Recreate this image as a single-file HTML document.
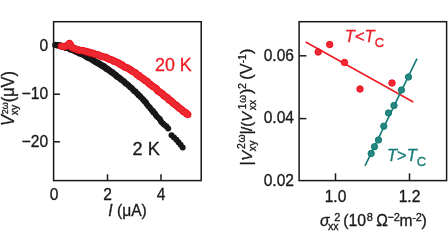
<!DOCTYPE html>
<html><head><meta charset="utf-8"><title>figure</title>
<style>html,body{margin:0;padding:0;background:#fff;overflow:hidden}svg{display:block}</style></head>
<body>
<svg width="448" height="252" viewBox="0 0 448 252">
<rect width="448" height="252" fill="#fff"/>
<g fill="none" stroke="#1a1718" stroke-width="1.5">
<rect x="53.6" y="21.7" width="147.6" height="158.9"/>
<path d="M53.6 45.5h6.3"/>
<path d="M53.6 94.2h6.3"/>
<path d="M53.6 141.8h6.3"/>
<path d="M107.5 180.6v-6.3"/>
<path d="M161 180.6v-6.3"/>
</g>
<g fill="none" stroke="#1a1718" stroke-width="1.5">
<rect x="299.1" y="21.7" width="147.5" height="158.9"/>
<path d="M299.1 55.8h7.3"/>
<path d="M299.1 118.6h7.3"/>
<path d="M335.5 180.6v-7.3"/>
<path d="M409.5 180.6v-7.3"/>
</g>
<g fill="#1a1718"><circle cx="55.4" cy="44.9" r="3.20"/><circle cx="57.1" cy="45.2" r="3.20"/><circle cx="59.0" cy="45.4" r="3.20"/><circle cx="60.1" cy="45.4" r="3.20"/><circle cx="61.4" cy="46.1" r="3.20"/><circle cx="63.1" cy="46.8" r="3.20"/><circle cx="64.4" cy="46.7" r="3.20"/><circle cx="65.8" cy="47.7" r="3.20"/><circle cx="67.1" cy="47.9" r="3.20"/><circle cx="69.0" cy="48.1" r="3.20"/><circle cx="70.2" cy="49.3" r="3.20"/><circle cx="71.4" cy="49.6" r="3.20"/><circle cx="73.2" cy="49.8" r="3.20"/><circle cx="74.4" cy="50.8" r="3.20"/><circle cx="75.9" cy="51.2" r="3.20"/><circle cx="76.9" cy="51.9" r="3.20"/><circle cx="78.4" cy="52.5" r="3.20"/><circle cx="79.8" cy="53.4" r="3.20"/><circle cx="81.4" cy="53.7" r="3.20"/><circle cx="82.7" cy="54.3" r="3.20"/><circle cx="83.9" cy="55.0" r="3.20"/><circle cx="85.4" cy="55.7" r="3.20"/><circle cx="86.6" cy="56.7" r="3.20"/><circle cx="87.9" cy="57.5" r="3.20"/><circle cx="89.1" cy="58.1" r="3.20"/><circle cx="90.6" cy="58.6" r="3.20"/><circle cx="92.0" cy="59.4" r="3.20"/><circle cx="93.2" cy="59.8" r="3.20"/><circle cx="94.2" cy="61.1" r="3.20"/><circle cx="95.8" cy="61.9" r="3.20"/><circle cx="97.4" cy="62.7" r="3.20"/><circle cx="98.1" cy="63.2" r="3.20"/><circle cx="99.7" cy="63.9" r="3.20"/><circle cx="101.3" cy="65.2" r="3.20"/><circle cx="102.5" cy="65.7" r="3.20"/><circle cx="103.7" cy="66.3" r="3.20"/><circle cx="104.6" cy="67.3" r="3.20"/><circle cx="106.2" cy="68.2" r="3.20"/><circle cx="107.0" cy="68.9" r="3.20"/><circle cx="108.4" cy="69.7" r="3.20"/><circle cx="109.6" cy="70.6" r="3.20"/><circle cx="111.0" cy="71.7" r="3.19"/><circle cx="112.5" cy="72.5" r="3.17"/><circle cx="113.4" cy="73.6" r="3.16"/><circle cx="114.9" cy="74.4" r="3.14"/><circle cx="116.1" cy="75.5" r="3.13"/><circle cx="116.8" cy="76.4" r="3.12"/><circle cx="118.1" cy="77.0" r="3.11"/><circle cx="119.7" cy="78.1" r="3.09"/><circle cx="120.4" cy="79.0" r="3.08"/><circle cx="121.5" cy="79.7" r="3.07"/><circle cx="123.2" cy="80.7" r="3.05"/><circle cx="124.2" cy="81.9" r="3.03"/><circle cx="125.5" cy="82.9" r="3.02"/><circle cx="126.1" cy="83.7" r="3.01"/><circle cx="127.6" cy="84.4" r="2.99"/><circle cx="128.8" cy="85.7" r="2.98"/><circle cx="130.1" cy="86.9" r="2.97"/><circle cx="130.7" cy="87.5" r="2.96"/><circle cx="132.2" cy="88.5" r="2.94"/><circle cx="133.0" cy="89.8" r="2.93"/><circle cx="134.1" cy="91.0" r="2.92"/><circle cx="135.6" cy="91.5" r="2.90"/><circle cx="136.5" cy="93.1" r="2.89"/><circle cx="137.9" cy="93.8" r="2.87"/><circle cx="138.4" cy="95.2" r="2.87"/><circle cx="140.0" cy="95.8" r="2.85"/><circle cx="140.7" cy="97.3" r="2.85"/><circle cx="142.0" cy="98.0" r="2.85"/><circle cx="142.9" cy="99.6" r="2.85"/><circle cx="143.9" cy="100.2" r="2.85"/><circle cx="144.6" cy="101.4" r="2.85"/><circle cx="146.1" cy="102.4" r="2.85"/><circle cx="146.5" cy="103.8" r="2.85"/><circle cx="147.4" cy="104.8" r="2.85"/><circle cx="148.4" cy="106.2" r="2.85"/><circle cx="149.8" cy="107.3" r="2.85"/><circle cx="150.4" cy="108.4" r="2.85"/><circle cx="151.6" cy="110.0" r="2.85"/><circle cx="152.9" cy="110.7" r="2.85"/><circle cx="153.2" cy="112.3" r="2.85"/><circle cx="154.8" cy="113.2" r="2.85"/><circle cx="155.6" cy="114.7" r="2.85"/><circle cx="156.4" cy="115.8" r="2.85"/><circle cx="157.0" cy="116.6" r="2.85"/><circle cx="158.1" cy="117.6" r="2.85"/><circle cx="159.5" cy="118.7" r="2.85"/><circle cx="160.3" cy="119.9" r="2.85"/><circle cx="161.0" cy="121.4" r="2.85"/><circle cx="161.9" cy="122.6" r="2.85"/><circle cx="163.1" cy="123.6" r="2.85"/><circle cx="164.2" cy="124.7" r="2.85"/><circle cx="166.3" cy="126.2" r="3.00"/><circle cx="168.2" cy="128.6" r="3.00"/><circle cx="171.5" cy="135.3" r="3.00"/><circle cx="174.0" cy="137.6" r="3.00"/><circle cx="176.4" cy="139.8" r="3.00"/><circle cx="178.5" cy="142.2" r="3.00"/><circle cx="180.6" cy="144.8" r="3.00"/><circle cx="182.7" cy="147.4" r="3.00"/></g>
<g fill="#f2101c"><circle cx="61.3" cy="46.2" r="3.55"/><circle cx="62.9" cy="46.2" r="3.55"/><circle cx="64.8" cy="46.6" r="3.55"/><circle cx="65.7" cy="46.1" r="3.55"/><circle cx="67.2" cy="45.7" r="3.55"/><circle cx="68.4" cy="44.9" r="3.55"/><circle cx="69.5" cy="43.4" r="3.55"/><circle cx="70.0" cy="44.5" r="3.55"/><circle cx="70.8" cy="45.4" r="3.55"/><circle cx="71.7" cy="47.3" r="3.55"/><circle cx="72.7" cy="47.7" r="3.55"/><circle cx="74.1" cy="48.6" r="3.55"/><circle cx="75.5" cy="48.7" r="3.55"/><circle cx="77.2" cy="49.7" r="3.55"/><circle cx="78.3" cy="49.8" r="3.55"/><circle cx="79.5" cy="50.4" r="3.55"/><circle cx="81.5" cy="50.5" r="3.55"/><circle cx="82.9" cy="50.6" r="3.55"/><circle cx="84.0" cy="51.0" r="3.55"/><circle cx="85.7" cy="51.3" r="3.55"/><circle cx="87.3" cy="51.9" r="3.55"/><circle cx="88.5" cy="52.0" r="3.55"/><circle cx="90.1" cy="52.9" r="3.55"/><circle cx="91.5" cy="52.9" r="3.55"/><circle cx="93.0" cy="53.3" r="3.55"/><circle cx="94.5" cy="54.0" r="3.55"/><circle cx="95.6" cy="54.4" r="3.55"/><circle cx="97.2" cy="54.6" r="3.55"/><circle cx="98.8" cy="55.1" r="3.55"/><circle cx="100.3" cy="55.9" r="3.55"/><circle cx="101.2" cy="56.2" r="3.55"/><circle cx="102.7" cy="56.8" r="3.55"/><circle cx="104.3" cy="57.1" r="3.55"/><circle cx="106.0" cy="57.3" r="3.55"/><circle cx="107.1" cy="58.0" r="3.55"/><circle cx="108.2" cy="58.8" r="3.55"/><circle cx="110.0" cy="59.4" r="3.55"/><circle cx="111.4" cy="59.7" r="3.55"/><circle cx="113.0" cy="60.2" r="3.55"/><circle cx="113.7" cy="61.2" r="3.55"/><circle cx="115.3" cy="61.6" r="3.55"/><circle cx="117.0" cy="62.2" r="3.55"/><circle cx="118.3" cy="63.1" r="3.55"/><circle cx="119.3" cy="63.3" r="3.55"/><circle cx="120.6" cy="64.7" r="3.55"/><circle cx="122.0" cy="64.8" r="3.55"/><circle cx="123.2" cy="66.1" r="3.55"/><circle cx="124.4" cy="66.8" r="3.55"/><circle cx="125.7" cy="67.6" r="3.55"/><circle cx="127.3" cy="67.7" r="3.55"/><circle cx="128.9" cy="68.7" r="3.55"/><circle cx="130.0" cy="69.6" r="3.55"/><circle cx="130.8" cy="70.1" r="3.55"/><circle cx="132.1" cy="71.0" r="3.55"/><circle cx="133.3" cy="71.7" r="3.55"/><circle cx="135.2" cy="72.6" r="3.55"/><circle cx="136.1" cy="73.5" r="3.55"/><circle cx="137.1" cy="74.7" r="3.55"/><circle cx="138.9" cy="75.4" r="3.55"/><circle cx="139.5" cy="76.6" r="3.55"/><circle cx="140.7" cy="77.0" r="3.55"/><circle cx="142.3" cy="78.3" r="3.55"/><circle cx="143.7" cy="79.0" r="3.55"/><circle cx="144.6" cy="80.1" r="3.55"/><circle cx="146.1" cy="81.0" r="3.55"/><circle cx="147.2" cy="81.3" r="3.55"/><circle cx="148.1" cy="82.5" r="3.55"/><circle cx="149.4" cy="83.7" r="3.55"/><circle cx="150.4" cy="84.5" r="3.55"/><circle cx="151.7" cy="85.5" r="3.55"/><circle cx="152.7" cy="86.2" r="3.55"/><circle cx="153.8" cy="87.0" r="3.55"/><circle cx="155.6" cy="88.0" r="3.55"/><circle cx="156.7" cy="89.1" r="3.55"/><circle cx="157.3" cy="90.3" r="3.55"/><circle cx="158.4" cy="91.2" r="3.55"/><circle cx="159.6" cy="92.1" r="3.55"/><circle cx="160.8" cy="92.8" r="3.55"/><circle cx="162.5" cy="93.9" r="3.55"/><circle cx="163.5" cy="95.0" r="3.55"/><circle cx="164.2" cy="96.1" r="3.55"/><circle cx="165.9" cy="96.5" r="3.55"/><circle cx="166.8" cy="97.6" r="3.55"/><circle cx="168.1" cy="98.4" r="3.55"/><circle cx="169.1" cy="99.9" r="3.55"/><circle cx="170.4" cy="100.4" r="3.55"/><circle cx="171.6" cy="101.4" r="3.55"/><circle cx="172.8" cy="102.5" r="3.55"/><circle cx="173.5" cy="103.6" r="3.55"/><circle cx="175.1" cy="104.6" r="3.55"/><circle cx="176.4" cy="105.2" r="3.55"/><circle cx="177.0" cy="106.1" r="3.55"/><circle cx="178.4" cy="107.2" r="3.55"/><circle cx="179.5" cy="108.2" r="3.55"/><circle cx="180.6" cy="108.7" r="3.55"/><circle cx="181.9" cy="109.8" r="3.55"/><circle cx="183.1" cy="111.2" r="3.55"/><circle cx="184.2" cy="111.9" r="3.55"/><circle cx="185.7" cy="112.5" r="3.55"/><circle cx="186.8" cy="113.9" r="3.55"/><circle cx="187.9" cy="114.6" r="3.55"/></g>
<g fill="#ec2830"><circle cx="61.3" cy="46.2" r="2.65"/><circle cx="62.9" cy="46.2" r="2.65"/><circle cx="64.8" cy="46.6" r="2.65"/><circle cx="65.7" cy="46.1" r="2.65"/><circle cx="67.2" cy="45.7" r="2.65"/><circle cx="68.4" cy="44.9" r="2.65"/><circle cx="69.5" cy="43.4" r="2.65"/><circle cx="70.0" cy="44.5" r="2.65"/><circle cx="70.8" cy="45.4" r="2.65"/><circle cx="71.7" cy="47.3" r="2.65"/><circle cx="72.7" cy="47.7" r="2.65"/><circle cx="74.1" cy="48.6" r="2.65"/><circle cx="75.5" cy="48.7" r="2.65"/><circle cx="77.2" cy="49.7" r="2.65"/><circle cx="78.3" cy="49.8" r="2.65"/><circle cx="79.5" cy="50.4" r="2.65"/><circle cx="81.5" cy="50.5" r="2.65"/><circle cx="82.9" cy="50.6" r="2.65"/><circle cx="84.0" cy="51.0" r="2.65"/><circle cx="85.7" cy="51.3" r="2.65"/><circle cx="87.3" cy="51.9" r="2.65"/><circle cx="88.5" cy="52.0" r="2.65"/><circle cx="90.1" cy="52.9" r="2.65"/><circle cx="91.5" cy="52.9" r="2.65"/><circle cx="93.0" cy="53.3" r="2.65"/><circle cx="94.5" cy="54.0" r="2.65"/><circle cx="95.6" cy="54.4" r="2.65"/><circle cx="97.2" cy="54.6" r="2.65"/><circle cx="98.8" cy="55.1" r="2.65"/><circle cx="100.3" cy="55.9" r="2.65"/><circle cx="101.2" cy="56.2" r="2.65"/><circle cx="102.7" cy="56.8" r="2.65"/><circle cx="104.3" cy="57.1" r="2.65"/><circle cx="106.0" cy="57.3" r="2.65"/><circle cx="107.1" cy="58.0" r="2.65"/><circle cx="108.2" cy="58.8" r="2.65"/><circle cx="110.0" cy="59.4" r="2.65"/><circle cx="111.4" cy="59.7" r="2.65"/><circle cx="113.0" cy="60.2" r="2.65"/><circle cx="113.7" cy="61.2" r="2.65"/><circle cx="115.3" cy="61.6" r="2.65"/><circle cx="117.0" cy="62.2" r="2.65"/><circle cx="118.3" cy="63.1" r="2.65"/><circle cx="119.3" cy="63.3" r="2.65"/><circle cx="120.6" cy="64.7" r="2.65"/><circle cx="122.0" cy="64.8" r="2.65"/><circle cx="123.2" cy="66.1" r="2.65"/><circle cx="124.4" cy="66.8" r="2.65"/><circle cx="125.7" cy="67.6" r="2.65"/><circle cx="127.3" cy="67.7" r="2.65"/><circle cx="128.9" cy="68.7" r="2.65"/><circle cx="130.0" cy="69.6" r="2.65"/><circle cx="130.8" cy="70.1" r="2.65"/><circle cx="132.1" cy="71.0" r="2.65"/><circle cx="133.3" cy="71.7" r="2.65"/><circle cx="135.2" cy="72.6" r="2.65"/><circle cx="136.1" cy="73.5" r="2.65"/><circle cx="137.1" cy="74.7" r="2.65"/><circle cx="138.9" cy="75.4" r="2.65"/><circle cx="139.5" cy="76.6" r="2.65"/><circle cx="140.7" cy="77.0" r="2.65"/><circle cx="142.3" cy="78.3" r="2.65"/><circle cx="143.7" cy="79.0" r="2.65"/><circle cx="144.6" cy="80.1" r="2.65"/><circle cx="146.1" cy="81.0" r="2.65"/><circle cx="147.2" cy="81.3" r="2.65"/><circle cx="148.1" cy="82.5" r="2.65"/><circle cx="149.4" cy="83.7" r="2.65"/><circle cx="150.4" cy="84.5" r="2.65"/><circle cx="151.7" cy="85.5" r="2.65"/><circle cx="152.7" cy="86.2" r="2.65"/><circle cx="153.8" cy="87.0" r="2.65"/><circle cx="155.6" cy="88.0" r="2.65"/><circle cx="156.7" cy="89.1" r="2.65"/><circle cx="157.3" cy="90.3" r="2.65"/><circle cx="158.4" cy="91.2" r="2.65"/><circle cx="159.6" cy="92.1" r="2.65"/><circle cx="160.8" cy="92.8" r="2.65"/><circle cx="162.5" cy="93.9" r="2.65"/><circle cx="163.5" cy="95.0" r="2.65"/><circle cx="164.2" cy="96.1" r="2.65"/><circle cx="165.9" cy="96.5" r="2.65"/><circle cx="166.8" cy="97.6" r="2.65"/><circle cx="168.1" cy="98.4" r="2.65"/><circle cx="169.1" cy="99.9" r="2.65"/><circle cx="170.4" cy="100.4" r="2.65"/><circle cx="171.6" cy="101.4" r="2.65"/><circle cx="172.8" cy="102.5" r="2.65"/><circle cx="173.5" cy="103.6" r="2.65"/><circle cx="175.1" cy="104.6" r="2.65"/><circle cx="176.4" cy="105.2" r="2.65"/><circle cx="177.0" cy="106.1" r="2.65"/><circle cx="178.4" cy="107.2" r="2.65"/><circle cx="179.5" cy="108.2" r="2.65"/><circle cx="180.6" cy="108.7" r="2.65"/><circle cx="181.9" cy="109.8" r="2.65"/><circle cx="183.1" cy="111.2" r="2.65"/><circle cx="184.2" cy="111.9" r="2.65"/><circle cx="185.7" cy="112.5" r="2.65"/><circle cx="186.8" cy="113.9" r="2.65"/><circle cx="187.9" cy="114.6" r="2.65"/></g>
<g stroke-width="1.6" fill="none"><path d="M305.7 42L413.3 102" stroke="#ee1c25"/><path d="M417 58.7L365 165.8" stroke="#127a78"/></g>
<g fill="#ec2a33" stroke="#f20a18" stroke-width="0.9"><circle cx="318.2" cy="52.0" r="3.25"/><circle cx="329.7" cy="44.5" r="3.25"/><circle cx="344.5" cy="62.5" r="3.25"/><circle cx="360.0" cy="89.0" r="3.25"/><circle cx="392.0" cy="83.0" r="3.25"/></g>
<g fill="#27867f" stroke="#0d7872" stroke-width="0.9"><circle cx="408.5" cy="77.0" r="3.20"/><circle cx="401.4" cy="90.0" r="3.20"/><circle cx="394.0" cy="105.5" r="3.20"/><circle cx="388.5" cy="113.0" r="3.20"/><circle cx="383.8" cy="126.2" r="3.20"/><circle cx="378.5" cy="140.0" r="3.20"/><circle cx="374.5" cy="146.7" r="3.20"/><circle cx="371.2" cy="153.5" r="3.20"/></g>
<g font-family="'Liberation Sans', Arial, Helvetica, sans-serif" fill="#1a1718" stroke="#1a1718" stroke-width="0.3">
<text transform="translate(48.2,51.2) scale(1,1.065)" font-size="15.6" text-anchor="end">0</text>
<text transform="translate(48.2,99.0) scale(1,1.065)" font-size="15.6" text-anchor="end">−10</text>
<text transform="translate(48.2,147.29999999999998) scale(1,1.065)" font-size="15.6" text-anchor="end">−20</text>
<text transform="translate(54,200.2) scale(1,1.065)" font-size="15.6" text-anchor="middle">0</text>
<text transform="translate(107.5,200.2) scale(1,1.065)" font-size="15.6" text-anchor="middle">2</text>
<text transform="translate(161,200.2) scale(1,1.065)" font-size="15.6" text-anchor="middle">4</text>
<text transform="translate(108.3,216.3) scale(1,1.065)" font-size="15.6"><tspan font-style="italic">I</tspan> (μA)</text>
<text transform="rotate(-90) scale(1,1.065)" font-size="16.4"><tspan x="-126.00" y="12.86" font-style="italic">V</tspan><tspan x="-114.20" y="7.32" font-size="9">2ω</tspan><tspan x="-115.30" y="16.81" font-size="10.4">xy </tspan><tspan x="-102.30" y="12.86">(μV)</tspan></text>
<text transform="translate(155,71) scale(1,1)" font-size="17.9" fill="#ee1c25" stroke="#ee1c25">20 K</text>
<text transform="translate(132.5,154.7) scale(1,1)" font-size="18.2">2 K</text>
<text transform="translate(294,60.7) scale(1,1.065)" font-size="15.6" text-anchor="end">0.06</text>
<text transform="translate(294,123.2) scale(1,1.065)" font-size="15.6" text-anchor="end">0.04</text>
<text transform="translate(294,186.1) scale(1,1.065)" font-size="15.6" text-anchor="end">0.02</text>
<text transform="translate(335.5,202.0) scale(1,1.065)" font-size="15.6" text-anchor="middle">1.0</text>
<text transform="translate(409.5,202.0) scale(1,1.065)" font-size="15.6" text-anchor="middle">1.2</text>
<text transform="scale(1,1.065)" font-size="15.6"><tspan x="320.00" y="212.30" font-style="italic">σ</tspan><tspan x="328.00" y="216.24" font-size="10.6">xx</tspan><tspan x="334.30" y="207.61" font-size="11">2 </tspan><tspan x="343.30" y="212.30" font-size="15.8">(10</tspan><tspan x="366.70" y="207.61" font-size="11">8 </tspan><tspan x="376.20" y="212.30">Ω</tspan><tspan x="387.80" y="207.61" font-size="11" letter-spacing="-0.5">−2</tspan><tspan x="399.40" y="212.30">m</tspan><tspan x="412.20" y="207.61" font-size="11">-2</tspan><tspan x="421.60" y="212.30" font-size="15.8">)</tspan></text>
<text transform="rotate(-90)" font-size="16.4"><tspan x="-165.50" y="252.00">|</tspan><tspan x="-160.74" y="252.00" font-size="14.8" font-style="italic">V</tspan><tspan x="-148.90" y="245.40" font-size="10.4">2</tspan><tspan x="-142.50" y="245.40" font-size="10.4">ω</tspan><tspan x="-151.30" y="256.20" font-size="10.4">x</tspan><tspan x="-145.70" y="256.20" font-size="10.4">y</tspan><tspan x="-134.50" y="252.00">|</tspan><tspan x="-131.10" y="252.00" font-size="15.2">/(</tspan><tspan x="-121.80" y="252.00" font-size="14.8" font-style="italic">V</tspan><tspan x="-109.20" y="246.00" font-size="10">1</tspan><tspan x="-102.84" y="246.00" font-size="10">ω</tspan><tspan x="-110.20" y="256.20" font-size="10.4">xx</tspan><tspan x="-94.10" y="252.00">)</tspan><tspan x="-88.90" y="245.60" font-size="10.6">2 </tspan><tspan x="-79.84" y="252.00">(V</tspan><tspan x="-63.20" y="246.00" font-size="10">-1</tspan><tspan x="-54.00" y="252.00">)</tspan></text>
<text transform="translate(344.8,42) scale(1,1)" font-size="16.5" fill="#ee1c25" stroke="#ee1c25"><tspan font-style="italic">T</tspan>&lt;<tspan font-style="italic">T</tspan><tspan dy="5" font-size="13">C</tspan></text>
<text transform="translate(386.9,161.2) scale(1,1)" font-size="16.5" fill="#127a78" stroke="#127a78"><tspan font-style="italic">T</tspan>&gt;<tspan font-style="italic">T</tspan><tspan dy="5" font-size="13">C</tspan></text>
</g></svg>
</body></html>
